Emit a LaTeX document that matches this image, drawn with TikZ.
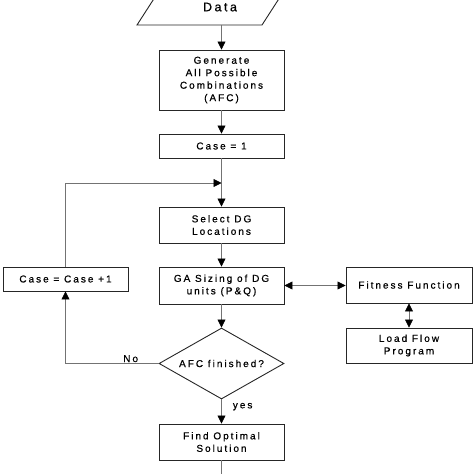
\documentclass[tikz,border=0pt]{standalone}
\usepackage{fontspec}
\setmainfont{Liberation Sans}[LetterSpace=20,FakeBold=0.6]
\usetikzlibrary{arrows.meta,shapes.geometric}
\begin{document}
\begin{tikzpicture}[x=1pt,y=-1pt,
  box/.style={draw=black!85,line width=0.9pt,fill=white,minimum width=125pt,inner sep=0pt,align=center,
    font=\fontsize{10}{12.5}\selectfont},
  conn/.style={draw=black!55,line width=0.7pt},
  tip/.style={-{Triangle[length=8pt,width=8pt,fill=black,color=black]}},
  dtip/.style={{Triangle[length=8pt,width=8pt,fill=black,color=black]}-{Triangle[length=8pt,width=8pt,fill=black,color=black]}},
  lbl/.style={font=\fontsize{10}{12}\selectfont,inner sep=1pt}]
\useasboundingbox (0,0) rectangle (474,474);
\begin{scope}
\clip (0,0) rectangle (474,474);
% Data parallelogram
\draw[black!85,line width=0.9pt,fill=white] (137,25) -- (262,25) -- (282,-6) -- (157,-6) -- cycle;
\node[font=\fontsize{12.5}{14}\selectfont,inner sep=0pt] (data) at (220,7) {Data};
\coordinate (dataB) at (221.5,25);
\node[box,minimum height=60pt] (gen) at (221.5,80) {Generate\\All Possible\\Combinations\\(AFC)};
\node[box,minimum height=24pt] (case1) at (221.5,146) {Case = 1};
\node[box,minimum height=36pt] (sel) at (221.5,225) {Select DG\\Locations};
\node[box,minimum height=37pt] (ga) at (221.5,285.5) {GA Sizing of DG\\units (P\&Q)};
\node[draw=black!85,line width=0.9pt,shape=diamond,aspect=1.76,minimum width=125pt,minimum height=71pt,inner sep=0pt,
  font=\fontsize{10}{12}\selectfont] (dec) at (221.5,363.5) {AFC finished?};
\node[box,minimum height=36pt] (find) at (221.5,442) {Find Optimal\\Solution};
\node[box,minimum height=24pt] (inc) at (65.5,279) {Case = Case +1};
\node[box,minimum width=126pt,minimum height=36pt] (fit) at (409,285) {Fitness Function};
\node[box,minimum width=126pt,minimum height=35pt] (lf) at (409,345.5) {Load Flow\\Program};
\coordinate (loopEnd) at (221.5,183);
\coordinate (bottom) at (221.5,478);
% connectors
\draw[conn,tip] (dataB) -- (gen);
\draw[conn,tip] (gen) -- (case1);
\draw[conn,tip] (case1) -- (sel);
\draw[conn,tip] (sel) -- (ga);
\draw[conn,tip] (ga) -- (dec);
\draw[conn,tip] (dec) -- node[lbl,right,pos=0.3,xshift=10pt] {yes} (find);
\draw[conn] (find) -- (bottom);
\draw[conn,tip] (dec.west) -- node[lbl,above,pos=0.3] {No} (inc.south |- dec.west) -- (inc.south);
\draw[conn,tip] (inc.north) -- (inc.north |- loopEnd) -- (loopEnd);
\draw[conn,dtip] (ga.east) -- (fit.west |- ga.east);
\draw[conn,dtip] (fit.south) -- (lf.north);
\end{scope}
\end{tikzpicture}
\end{document}
